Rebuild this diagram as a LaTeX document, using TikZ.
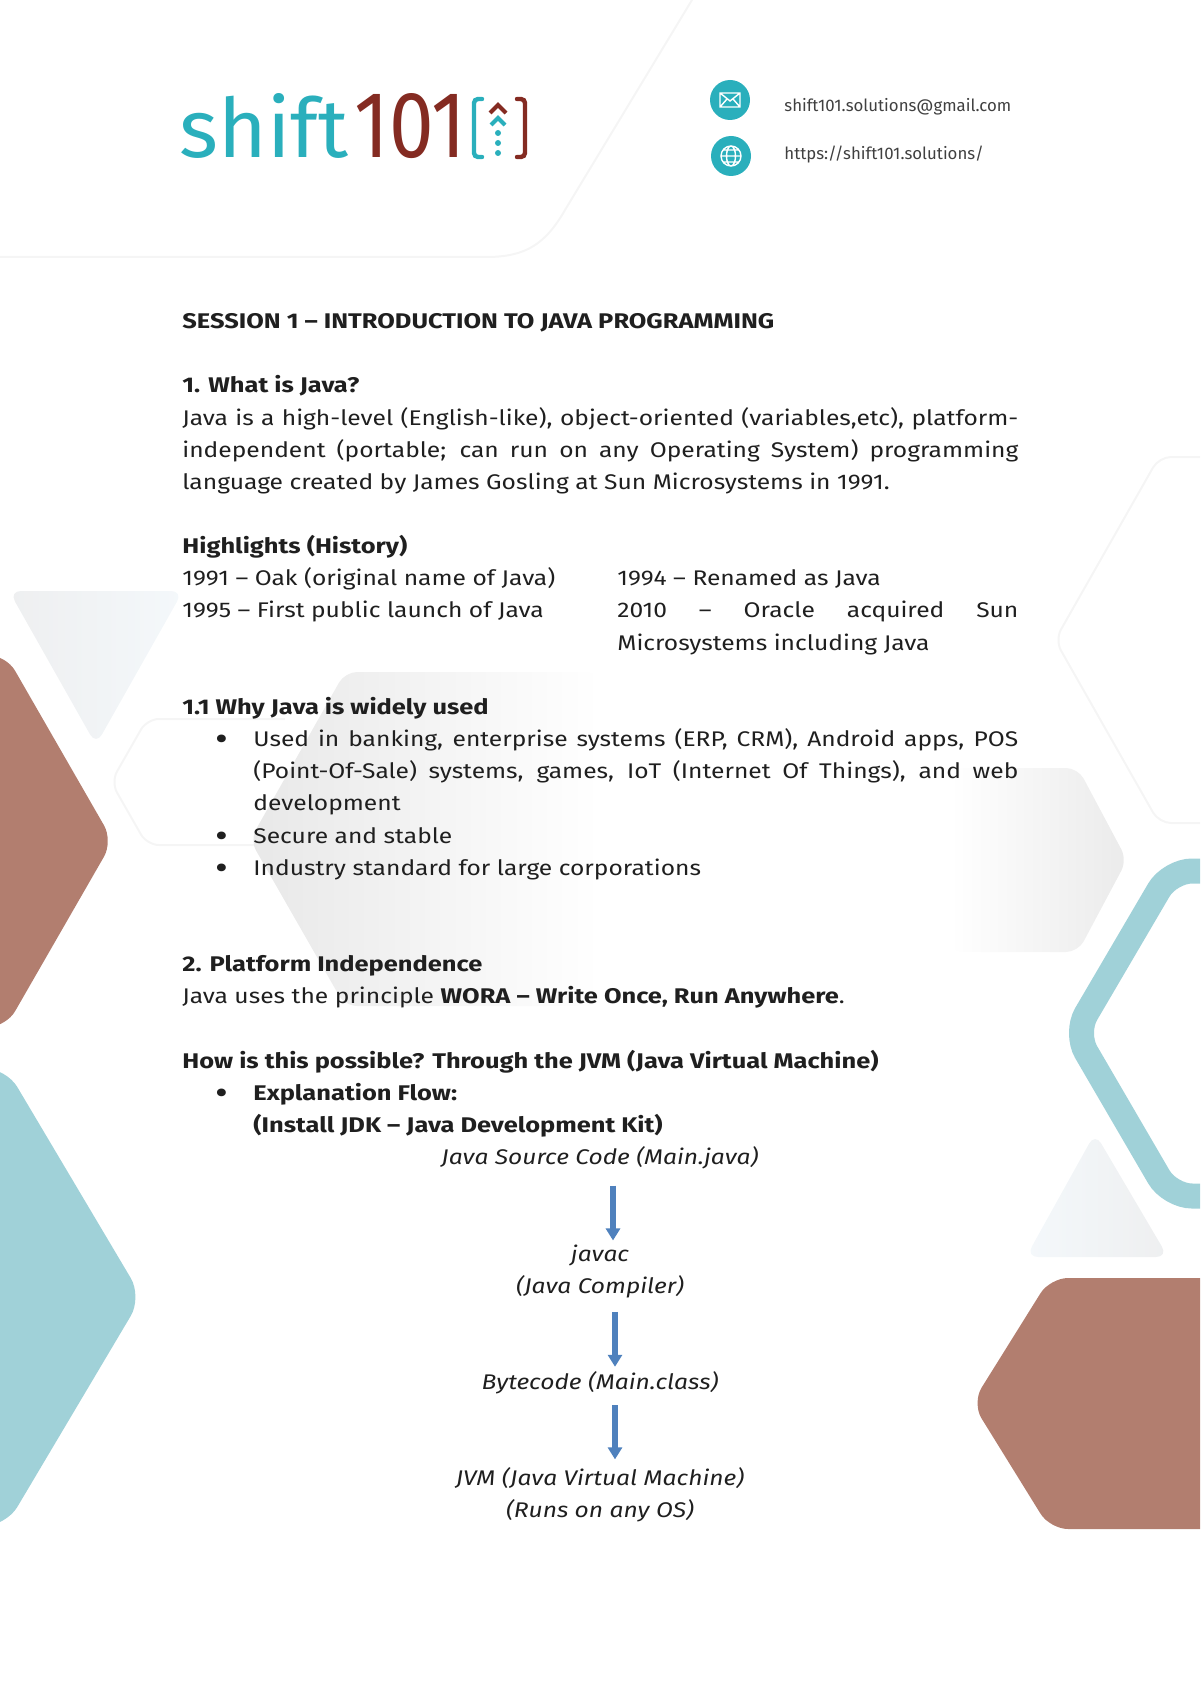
\documentclass[tikz,border=0pt]{standalone}
\usepackage{fontspec}
\usepackage{xcolor}
\usepackage{graphicx}
\setmainfont[FakeStretch=1.16,BoldFeatures={FakeStretch=1.2}]{Fira Sans}
\newfontfamily\contactfont{Fira Sans}
\usetikzlibrary{arrows.meta}
\definecolor{brickbrown}{HTML}{B27E6F}
\definecolor{paleteal}{HTML}{A0D1D8}
\definecolor{logoteal}{HTML}{2AAFBC}
\definecolor{logored}{HTML}{842B22}
\definecolor{flowblue}{HTML}{4F81BD}
\definecolor{ghostline}{HTML}{F5F5F5}
\definecolor{shadegray}{HTML}{EEEFF0}
\definecolor{shadeblue}{HTML}{F4F8FB}
\newcommand{\jline}[2]{\makebox[#1][s]{#2}}
\tikzset{
    txt/.style={anchor=base west, inner sep=0pt, font=\fontsize{10.6}{12}\selectfont, text=black!88},
    dot/.style={anchor=base west, inner sep=0pt, font=\fontsize{17}{18}\selectfont, text=black!88},
    contact/.style={anchor=base west, inner sep=0pt, font=\contactfont\fontsize{8.4}{10}\selectfont, text=black!75},
    flowtxt/.style={inner sep=0pt, align=center, font=\fontsize{10.6}{16}\selectfont\itshape, text=black!88},
    flowarrow/.style={draw=flowblue, line width=3pt, -{Triangle[length=6pt,width=7pt]}},
    ghost/.style={draw=ghostline, line width=1pt, rounded corners=6pt}
}
\begin{document}
\begin{tikzpicture}[x=0.5pt,y=-0.5pt]
    \useasboundingbox (0,0) rectangle (1200,1696);
    \begin{scope}
        \clip (0,0) rectangle (1200,1696);
        % faint page shapes
        \draw[draw=ghostline, line width=1pt] (695,-5) -- (565,210) .. controls (545,245) and (525,256) .. (490,257) -- (-5,257);
        \draw[ghost] (1215,457) -- (1159,457) -- (1055,640) -- (1159,823) -- (1215,823);
        \draw[ghost] (285,719) -- (147,719) -- (111,782) -- (147,845) -- (285,845);
        \path[rounded corners=6pt, left color=black!9, right color=white] (345,672) -- (600,672) -- (600,1006) -- (345,1006) -- (250,840) -- cycle;
        \path[rounded corners=6pt, left color=white, right color=black!8] (950,768) -- (1078,768) -- (1127,860) -- (1078,952) -- (950,952) -- cycle;
        \path[rounded corners=6pt, left color=shadegray, right color=shadeblue] (9,591) -- (183,591) -- (96,745) -- cycle;
        \path[rounded corners=6pt, left color=shadeblue, right color=shadegray] (1026,1257) -- (1168,1257) -- (1095,1133) -- cycle;
        % coloured page shapes
        \fill[brickbrown, rounded corners=9pt] (-25,655) -- (6,655) -- (113,841) -- (6,1027) -- (-25,1027) -- cycle;
        \fill[paleteal, rounded corners=11pt] (-25,1068) -- (6,1068) -- (142,1297) -- (6,1526) -- (-25,1526) -- cycle;
        \fill[brickbrown, rounded corners=9pt] (1225,1278) -- (1050,1278) -- (972,1403) -- (1050,1529) -- (1225,1529) -- cycle;
        \draw[paleteal, line width=12.5pt, rounded corners=11pt] (1215,871) -- (1170,871) -- (1075,1033) -- (1170,1196) -- (1215,1196);
    \end{scope}

    % logo
    \node[anchor=south west, inner sep=0pt, text=logoteal] (Logo-Shift) at (179,159) {\resizebox{84.5pt}{32pt}{\contactfont shift}};
    \node[anchor=south west, inner sep=0pt, text=logored] (Logo-Num) at (354,159) {\resizebox{56pt}{32pt}{\contactfont 101}};
    \draw[logoteal, line width=2.2pt, line cap=round, rounded corners=2pt] (482,99) -- (474,99) -- (474,157) -- (482,157);
    \draw[logored, line width=2.2pt, line cap=round, rounded corners=2pt] (517,99) -- (525,99) -- (525,157) -- (517,157);
    \draw[logored, line width=2pt] (490,113) -- (498,105) -- (506,113);
    \draw[logoteal, line width=2pt] (491,125) -- (498,118) -- (505,125);
    \fill[logoteal] (498,133) circle (3) (498,143) circle (3) (498,153) circle (3);

    % contact icons
    \fill[logoteal] (730,100) circle (20);
    \fill[logoteal] (731,156) circle (20);
    \draw[white, line width=0.7pt] (720,93) rectangle (740,107) (720,93) -- (730,101) -- (740,93) (720,107) -- (727,99) (740,107) -- (733,99);
    \draw[white, line width=0.7pt] (731,156) circle (10) (731,156) ellipse (4.5 and 10) (721,156) -- (741,156) (723,150) -- (739,150) (723,162) -- (739,162);
    \node[contact] (Mail) at (784,112) {shift101.solutions@gmail.com};
    \node[contact] (Web) at (784,160) {https://shift101.solutions/};

    % page text
    \node[txt] (Title) at (182,328) {\textbf{SESSION 1 – INTRODUCTION TO JAVA PROGRAMMING}};
    \node[txt] (What) at (182,392) {\textbf{1. What is Java?}};
    \node[txt] (What-1) at (182,425) {\jline{418pt}{Java is a high-level (English-like), object-oriented (variables,etc), platform-}};
    \node[txt] (What-2) at (182,457) {\jline{418pt}{independent (portable; can run on any Operating System) programming}};
    \node[txt] (What-3) at (182,489) {language created by James Gosling at Sun Microsystems in 1991.};
    \node[txt] (History) at (182,553) {\textbf{Highlights (History)}};
    \node[txt] (Oak) at (182,585) {1991 – Oak (original name of Java)};
    \node[txt] (Renamed) at (617,585) {1994 – Renamed as Java};
    \node[txt] (Launch) at (182,617) {1995 – First public launch of Java};
    \node[txt] (Oracle-1) at (617,617) {\jline{200.5pt}{2010 – Oracle acquired Sun}};
    \node[txt] (Oracle-2) at (617,650) {Microsystems including Java};
    \node[txt] (Why) at (182,714) {\textbf{1.1 Why Java is widely used}};
    \node[dot] (Dot-1) at (215,750) {•};
    \node[txt] (Used-1) at (253,746) {\jline{382.5pt}{Used in banking, enterprise systems (ERP, CRM), Android apps, POS}};
    \node[txt] (Used-2) at (253,778) {\jline{382.5pt}{(Point-Of-Sale) systems, games, IoT (Internet Of Things), and web}};
    \node[txt] (Used-3) at (253,810) {development};
    \node[dot] (Dot-2) at (215,847) {•};
    \node[txt] (Secure) at (253,843) {Secure and stable};
    \node[dot] (Dot-3) at (215,879) {•};
    \node[txt] (Industry) at (253,875) {Industry standard for large corporations};
    \node[txt] (Platform) at (182,971) {\textbf{2. Platform Independence}};
    \node[txt] (Wora) at (182,1003) {Java uses the principle \textbf{WORA – Write Once, Run Anywhere}.};
    \node[txt] (How) at (182,1068) {\textbf{How is this possible? Through the JVM (Java Virtual Machine)}};
    \node[dot] (Dot-4) at (215,1104) {•};
    \node[txt] (Flow) at (253,1100) {\textbf{Explanation Flow:}};
    \node[txt] (Install) at (253,1132) {\textbf{(Install JDK – Java Development Kit)}};

    % flow
    \node[flowtxt] (Java-Source) at (600,1158) {Java Source Code (Main.java)};
    \node[flowtxt] (Javac) at (600,1272) {javac\\(Java Compiler)};
    \node[flowtxt] (Bytecode) at (600,1383) {Bytecode (Main.class)};
    \node[flowtxt] (JVM) at (600,1495) {JVM (Java Virtual Machine)\\(Runs on any OS)};

    \draw[flowarrow, shorten <=8pt, shorten >=2.3pt] ([xshift=6.5pt]Java-Source.south) -- ([xshift=6.5pt]Javac.north);
    \draw[flowarrow, shorten <=6.4pt, shorten >=2.3pt] ([xshift=7.5pt]Javac.south) -- ([xshift=7.5pt]Bytecode.north);
    \draw[flowarrow, shorten <=5.2pt, shorten >=4pt] ([xshift=7.5pt]Bytecode.south) -- ([xshift=7.5pt]JVM.north);
\end{tikzpicture}
\end{document}
